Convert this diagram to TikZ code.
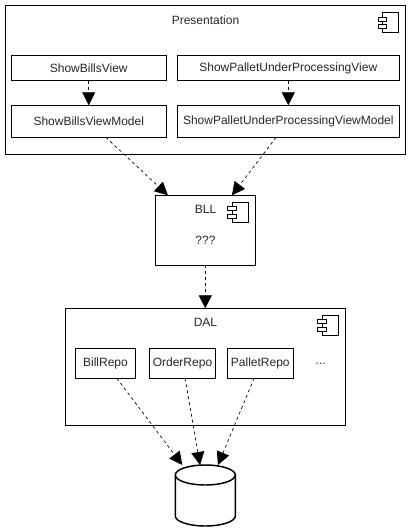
\documentclass[tikz,border=0pt]{standalone}
\usepackage{fontspec}
\setmainfont{Liberation Sans}
\usetikzlibrary{arrows.meta}
\tikzset{
    box/.style={draw, line width=0.75pt, inner sep=0pt, outer sep=0pt, font=\fontsize{9}{11}\selectfont, text=black!85},
    title/.style={inner sep=0pt, font=\fontsize{9}{11}\selectfont, text=black!85},
    dep/.style={draw, line width=0.5pt, dash pattern=on 2.25pt off 2.25pt, -{Triangle[length=9.75pt, width=9.75pt]}},
    compicon/.pic={
        \draw[line width=0.6pt] (-16,0) rectangle (0,20);
        \draw[line width=0.6pt, fill=white] (-20.5,4.5) rectangle (-12,8.5);
        \draw[line width=0.6pt, fill=white] (-20.5,12) rectangle (-12,16);
    }
}
\begin{document}
\begin{tikzpicture}[x=0.75pt, y=-0.75pt]
    \useasboundingbox (0,0) rectangle (411,532);

    % Presentation
    \node[box, minimum width=300pt, minimum height=112pt] (presentation) at (205.5,80.25) {};
    \node[title] (presentationTitle) at (205.5,20) {Presentation};
    \pic at ([xshift=-5.25pt, yshift=-5.25pt]presentation.north east) {compicon};
    \node[box, minimum width=116.25pt, minimum height=18.75pt] (billsView) at (88.75,68) {ShowBillsView};
    \node[box, minimum width=116.25pt, minimum height=24pt] (billsVM) at (88.75,121.3) {ShowBillsViewModel};
    \node[box, minimum width=166.5pt, minimum height=18.75pt] (palletView) at (288.3,68) {ShowPalletUnderProcessingView};
    \node[box, minimum width=166.5pt, minimum height=24pt] (palletVM) at (288.3,121.3) {ShowPalletUnderProcessingViewModel};

    % BLL
    \node[box, minimum width=75pt, minimum height=52.5pt] (bll) at (205.3,230.3) {};
    \node[title] (bllTitle) at (205.5,209.7) {BLL};
    \node[title] (bllText) at (205.5,240.7) {???};
    \pic at ([xshift=-5.25pt, yshift=-5.25pt]bll.north east) {compicon};

    % DAL
    \node[box, minimum width=210pt, minimum height=87.75pt] (dal) at (205.3,366.8) {};
    \node[title] (dalTitle) at (205.5,322.7) {DAL};
    \pic at ([xshift=-5.25pt, yshift=-5.25pt]dal.north east) {compicon};
    \node[box, minimum width=45pt, minimum height=22.5pt] (billRepo) at (105.5,363.3) {BillRepo};
    \node[box, minimum width=49.5pt, minimum height=22.5pt] (orderRepo) at (182.5,363.3) {OrderRepo};
    \node[box, minimum width=49.5pt, minimum height=22.5pt] (palletRepo) at (260.3,363.3) {PalletRepo};
    \node[title] (moreRepos) at (320.7,364) {...};

    % database
    \node[inner sep=0pt, outer sep=0pt, minimum width=45pt, minimum height=45.75pt] (db) at (205.3,495.5) {};
    \draw[line width=1.1pt] (175.3,475) arc[x radius=30, y radius=10, start angle=180, end angle=-180];
    \draw[line width=1.1pt] (175.3,475) -- (175.3,516) arc[x radius=30, y radius=10, start angle=180, end angle=0] -- (235.3,475);

    % dependencies
    \draw[dep] (billsView) -- (billsVM);
    \draw[dep] (palletView) -- (palletVM);
    \draw[dep] (billsVM) -- (bll);
    \draw[dep] (palletVM) -- (bll);
    \draw[dep] (bll) -- (dal);
    \draw[dep] (billRepo) -- (db);
    \draw[dep] (orderRepo) -- (db);
    \draw[dep] (palletRepo) -- (db);
\end{tikzpicture}
\end{document}
